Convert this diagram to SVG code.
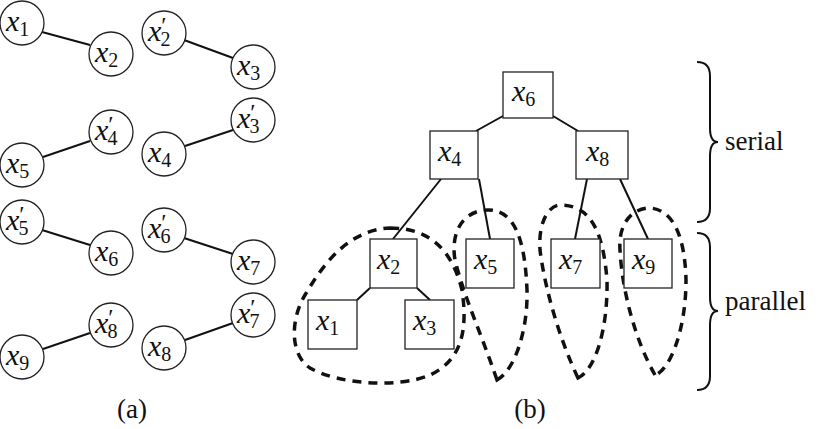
<svg xmlns="http://www.w3.org/2000/svg" width="839" height="429" viewBox="0 0 839 429">
<style>
.n{fill:#fff;stroke:#222;stroke-width:1.3}
.e{stroke:#111;stroke-width:2;fill:none}
.d{stroke:#111;stroke-width:3.5;fill:none;stroke-dasharray:9,7}
text{font-family:"Liberation Serif","DejaVu Serif","Times New Roman",serif;fill:#111}
.v{font-size:30px;font-style:italic}
.s{font-size:20px;font-style:normal}
.p{font-size:24px;font-style:normal}
.l{font-size:27px}
</style>
<defs>
<circle id="c" r="22" class="n"/>
</defs>
<g id="connectors">
<line class="e" x1="42" y1="32" x2="90" y2="45"/>
<line class="e" x1="184" y1="40" x2="233" y2="58"/>
<line class="e" x1="43" y1="157" x2="90" y2="141"/>
<line class="e" x1="185" y1="146" x2="233" y2="130"/>
<line class="e" x1="42" y1="230" x2="90" y2="245"/>
<line class="e" x1="184" y1="238" x2="233" y2="254"/>
<line class="e" x1="43" y1="349" x2="90" y2="333"/>
<line class="e" x1="185" y1="340" x2="233" y2="323"/>
<line class="e" x1="503" y1="116" x2="476" y2="131"/>
<line class="e" x1="553" y1="116" x2="578" y2="131"/>
<line class="e" x1="441" y1="179" x2="393" y2="239"/>
<line class="e" x1="479" y1="179" x2="490" y2="239"/>
<line class="e" x1="587" y1="179" x2="575" y2="239"/>
<line class="e" x1="620" y1="179" x2="648" y2="239"/>
<line class="e" x1="370" y1="288" x2="357" y2="300"/>
<line class="e" x1="417" y1="288" x2="430" y2="300"/>
<path class="d" d="M390,228 C430,228 452,250 462,290 C468,330 462,360 430,375 C400,388 340,385 310,368 C290,355 290,320 305,295 C320,270 345,230 390,228 Z"/>
<path class="d" d="M497,380 C480,330 465,300 455,260 C450,230 465,210 488,210 C515,210 525,240 527,290 C528,330 515,370 497,380 Z"/>
<path class="d" d="M578,378 C560,340 545,290 540,250 C538,220 550,205 560,205 C590,205 603,230 607,280 C608,330 595,370 578,378 Z"/>
<path class="d" d="M655,375 C635,340 622,290 620,250 C618,220 635,208 650,208 C675,210 685,240 686,280 C686,330 670,370 655,375 Z"/>
<path class="e" stroke-width="1.6" d="M697,62 Q710,62 710,76 L710,128 Q710,142 718,142 Q710,142 710,156 L710,208 Q710,222 697,222"/>
<path class="e" stroke-width="1.6" d="M697,233 Q710,233 710,247 L710,297 Q710,311 718,311 Q710,311 710,325 L710,376 Q710,390 697,390"/>
</g>
<g id="a1"><use href="#c" x="22" y="23"/><text class="v" x="6" y="31">x<tspan class="s" dy="5">1</tspan></text></g>
<g id="a2"><use href="#c" x="111" y="54"/><text class="v" x="95" y="62">x<tspan class="s" dy="5">2</tspan></text></g>
<g id="a2p"><use href="#c" x="164" y="33"/><text class="v" x="148" y="41">x<tspan class="p" dy="-8">′</tspan><tspan class="s" dx="-6" dy="13">2</tspan></text></g>
<g id="a3"><use href="#c" x="253" y="67"/><text class="v" x="237" y="75">x<tspan class="s" dy="5">3</tspan></text></g>
<g id="a4p"><use href="#c" x="111" y="132"/><text class="v" x="95" y="140">x<tspan class="p" dy="-8">′</tspan><tspan class="s" dx="-6" dy="13">4</tspan></text></g>
<g id="a5"><use href="#c" x="22" y="165"/><text class="v" x="6" y="173">x<tspan class="s" dy="5">5</tspan></text></g>
<g id="a3p"><use href="#c" x="253" y="120"/><text class="v" x="237" y="128">x<tspan class="p" dy="-8">′</tspan><tspan class="s" dx="-6" dy="13">3</tspan></text></g>
<g id="a4"><use href="#c" x="164" y="154"/><text class="v" x="148" y="162">x<tspan class="s" dy="5">4</tspan></text></g>
<g id="a5p"><use href="#c" x="22" y="222"/><text class="v" x="6" y="230">x<tspan class="p" dy="-8">′</tspan><tspan class="s" dx="-6" dy="13">5</tspan></text></g>
<g id="a6"><use href="#c" x="111" y="253"/><text class="v" x="95" y="261">x<tspan class="s" dy="5">6</tspan></text></g>
<g id="a6p"><use href="#c" x="164" y="230"/><text class="v" x="148" y="238">x<tspan class="p" dy="-8">′</tspan><tspan class="s" dx="-6" dy="13">6</tspan></text></g>
<g id="a7"><use href="#c" x="253" y="262"/><text class="v" x="237" y="270">x<tspan class="s" dy="5">7</tspan></text></g>
<g id="a8p"><use href="#c" x="111" y="325"/><text class="v" x="95" y="333">x<tspan class="p" dy="-8">′</tspan><tspan class="s" dx="-6" dy="13">8</tspan></text></g>
<g id="a9"><use href="#c" x="22" y="357"/><text class="v" x="6" y="365">x<tspan class="s" dy="5">9</tspan></text></g>
<g id="a7p"><use href="#c" x="253" y="315"/><text class="v" x="237" y="323">x<tspan class="p" dy="-8">′</tspan><tspan class="s" dx="-6" dy="13">7</tspan></text></g>
<g id="a8"><use href="#c" x="164" y="348"/><text class="v" x="148" y="356">x<tspan class="s" dy="5">8</tspan></text></g>
<g id="b6"><rect class="n" x="503" y="72" width="50" height="46"/><text class="v" x="512" y="101">x<tspan class="s" dy="5">6</tspan></text></g>
<g id="b4"><rect class="n" x="430" y="131" width="48" height="48"/><text class="v" x="438" y="161">x<tspan class="s" dy="5">4</tspan></text></g>
<g id="b8"><rect class="n" x="576" y="131" width="52" height="48"/><text class="v" x="586" y="161">x<tspan class="s" dy="5">8</tspan></text></g>
<g id="b2"><rect class="n" x="370" y="239" width="47" height="49"/><text class="v" x="377" y="269">x<tspan class="s" dy="5">2</tspan></text></g>
<g id="b5"><rect class="n" x="466" y="239" width="48" height="49"/><text class="v" x="474" y="269">x<tspan class="s" dy="5">5</tspan></text></g>
<g id="b7"><rect class="n" x="551" y="239" width="49" height="49"/><text class="v" x="559" y="269">x<tspan class="s" dy="5">7</tspan></text></g>
<g id="b9"><rect class="n" x="624" y="239" width="48" height="49"/><text class="v" x="632" y="269">x<tspan class="s" dy="5">9</tspan></text></g>
<g id="b1"><rect class="n" x="308" y="300" width="49" height="49"/><text class="v" x="316" y="330">x<tspan class="s" dy="5">1</tspan></text></g>
<g id="b3"><rect class="n" x="405" y="300" width="49" height="49"/><text class="v" x="413" y="330">x<tspan class="s" dy="5">3</tspan></text></g>
<text class="l" x="725" y="150">serial</text>
<text class="l" x="725" y="310">parallel</text>
<text class="l" x="132" y="418" text-anchor="middle">(a)</text>
<text class="l" x="530" y="418" text-anchor="middle">(b)</text>
</svg>
